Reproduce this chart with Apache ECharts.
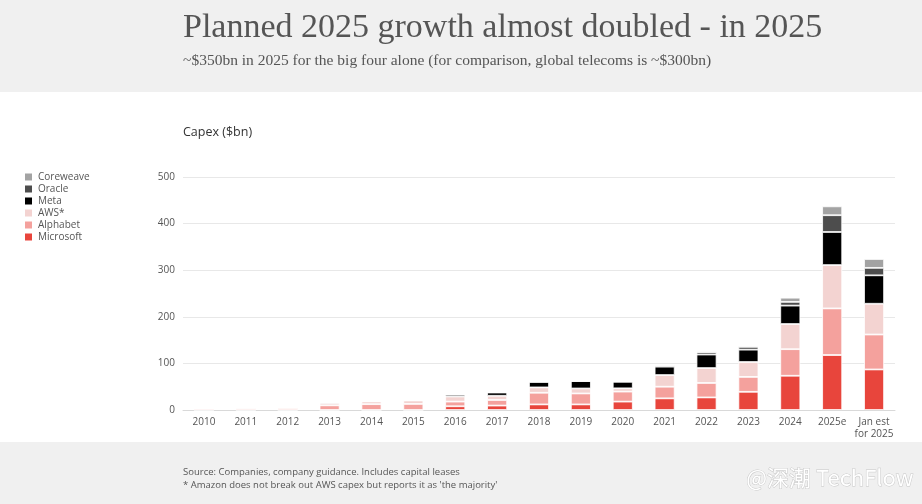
<!DOCTYPE html>
<html>
<head>
<meta charset="utf-8">
<script src="https://cdn.jsdelivr.net/npm/echarts@6/dist/echarts.min.js"></script>
<style>
html,body{margin:0;padding:0;background:#fff;}
#c{width:922px;height:504px;}
</style>
</head>
<body>
<div id="c"></div>
<script>
var categories = ['2010','2011','2012','2013','2014','2015','2016','2017','2018','2019','2020','2021','2022','2023','2024','2025e','Jan est\nfor 2025'];
var microsoft = [0,0,0,0,0,0,8,9.5,12,12,18,25,27,39,73.5,118,87];
var alphabet  = [3,3.5,4,10,12.5,13,10,12,25,23.5,21.5,25,31,32,57,100,75];
var aws       = [1,1.5,2,5.7,6,7.5,11,9,11.5,10.7,7,25,32,32,54,93,66];
var meta      = [0,0,0,0,0,0,4,7,12,16,14.3,18,29,26.5,39.5,71,61];
var oracle    = [0,0,0,0,0,0,0,0,0,0,0,3,5,6,8,36,16];
var coreweave = [0,0,0,0,0,0,0,0,0,0,0,0,2,2.5,9,19,19];
var yTicks = [0,100,200,300,400,500];

var seriesDefs = [
  {name:'Microsoft', data:microsoft, color:'#e8453c'},
  {name:'Alphabet', data:alphabet, color:'#f4a19d'},
  {name:'AWS*', data:aws, color:'#f3d3d1'},
  {name:'Meta', data:meta, color:'#000000'},
  {name:'Oracle', data:oracle, color:'#4d4d4d'},
  {name:'Coreweave', data:coreweave, color:'#a3a3a3'}
];

var chart = echarts.init(document.getElementById('c'));
var option = {
  animation:false,
  backgroundColor:'#ffffff',
  graphic:[
    {type:'rect', left:0, top:0, shape:{width:922, height:92}, style:{fill:'#f0f0f0'}, z:-10},
    {type:'rect', left:0, top:442, shape:{width:922, height:62}, style:{fill:'#f0f0f0'}, z:-10},
    {type:'text', left:183, top:126, style:{text:'Capex ($bn)', fill:'#333', font:'12.5px "Open Sans", sans-serif'}},
    {type:'text', left:183, top:466, style:{text:'Source: Companies, company guidance. Includes capital leases\n* Amazon does not break out AWS capex but reports it as \'the majority\'', fill:'#555', font:'9.5px "Open Sans", sans-serif', lineHeight:13}},
    {type:'text', right:8, top:466, style:{text:'@深潮 TechFlow', fill:'#ffffff', stroke:'#c8c8c8', lineWidth:1, font:'22px "Noto Sans CJK SC", sans-serif'}}
  ],
  title:{
    text:'Planned 2025 growth almost doubled - in 2025',
    subtext:'~$350bn in 2025 for the big four alone (for comparison, global telecoms is ~$300bn)',
    left:178, top:6,
    itemGap:8,
    textStyle:{fontFamily:'"Liberation Serif", serif', fontSize:34, fontWeight:'normal', color:'#555'},
    subtextStyle:{fontFamily:'"Liberation Serif", serif', fontSize:15.5, color:'#555'}
  },
  legend:{
    orient:'vertical', left:18, top:166,
    data:['Coreweave','Oracle','Meta','AWS*','Alphabet','Microsoft'],
    itemWidth:9, itemHeight:9, itemGap:0,
    icon:'rect',
    textStyle:{color:'#555', fontSize:10, lineHeight:12, fontFamily:'"Open Sans", sans-serif'},
    selectedMode:false
  },
  grid:{left:183, right:27, top:177, bottom:94, containLabel:false},
  xAxis:{
    type:'category', data:categories,
    axisLine:{show:true, lineStyle:{color:'#d9d9d9', width:1}},
    axisTick:{show:false},
    axisLabel:{color:'#555', fontSize:10, fontFamily:'"Open Sans", sans-serif', margin:6, lineHeight:12, interval:0}
  },
  yAxis:{
    type:'value', min:0, max:500, interval:100,
    axisLine:{show:false}, axisTick:{show:false},
    axisLabel:{color:'#555', fontSize:10, fontFamily:'"Open Sans", sans-serif', margin:8,
      formatter:function(v){return yTicks.indexOf(v)>=0 ? String(v) : '';}},
    splitLine:{lineStyle:{color:'#e8e8e8', width:1}}
  },
  series: seriesDefs.map(function(s){
    return {
      name:s.name, type:'bar', stack:'capex', data:s.data, barWidth:20,
      itemStyle:{color:s.color, borderColor:'#ffffff', borderWidth:0.8},
      emphasis:{disabled:true}
    };
  })
};
chart.setOption(option);
</script>
</body>
</html>
